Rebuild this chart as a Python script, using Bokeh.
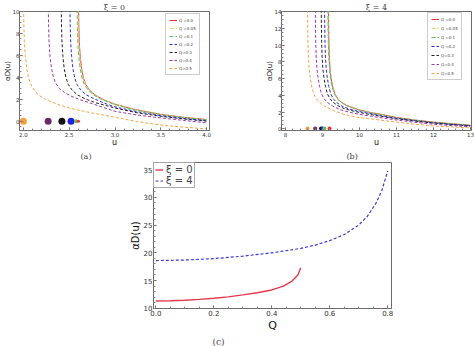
from bokeh.plotting import figure
from bokeh.layouts import column, row
from bokeh.models import Range1d, Legend, LegendItem, Title, FixedTicker, NumeralTickFormatter
from bokeh.embed import file_html
from bokeh.resources import INLINE
import numpy as np

# ---------------- data ----------------
q_labels = ["Q =0.0", "Q =0.05", "Q =0.1", "Q =0.2", "Q=0.3", "Q=0.4", "Q=0.5"]

# panel (a): xi = 0, deflection angle against u
u_a_q00 = [2.602, 2.605, 2.61, 2.62, 2.635, 2.655, 2.68, 2.72, 2.78, 2.87, 3.0, 3.2, 3.5, 3.75, 4.0]
al_a_q00 = [10.2, 8.6, 7.2, 5.9, 4.8, 3.95, 3.35, 2.85, 2.4, 1.97, 1.55, 1.1, 0.62, 0.35, 0.15]
u_a_q005 = [2.598, 2.601, 2.606, 2.616, 2.631, 2.651, 2.676, 2.716, 2.776, 2.866, 3.0, 3.2, 3.5, 3.75, 4.0]
al_a_q005 = [10.2, 8.6, 7.2, 5.9, 4.8, 3.95, 3.35, 2.85, 2.4, 1.97, 1.54, 1.09, 0.61, 0.34, 0.14]
u_a_q01 = [2.586, 2.589, 2.594, 2.604, 2.619, 2.639, 2.664, 2.704, 2.764, 2.854, 3.0, 3.2, 3.5, 3.75, 4.0]
al_a_q01 = [10.2, 8.6, 7.2, 5.9, 4.8, 3.95, 3.35, 2.85, 2.4, 1.97, 1.5, 1.06, 0.6, 0.33, 0.12]
u_a_q02 = [2.508, 2.511, 2.516, 2.526, 2.54, 2.56, 2.585, 2.625, 2.685, 2.77, 2.88, 3.0, 3.25, 3.5, 3.75, 4.0]
al_a_q02 = [10.2, 8.6, 7.2, 5.9, 4.8, 3.95, 3.35, 2.85, 2.4, 2.05, 1.65, 1.3, 0.85, 0.5, 0.25, 0.05]
u_a_q03 = [2.413, 2.416, 2.421, 2.431, 2.445, 2.465, 2.49, 2.53, 2.59, 2.67, 2.78, 3.0, 3.25, 3.5, 3.75, 4.0]
al_a_q03 = [10.2, 8.6, 7.2, 5.9, 4.8, 3.95, 3.35, 2.85, 2.4, 2.05, 1.7, 1.2, 0.75, 0.45, 0.2, 0.0]
u_a_q04 = [2.272, 2.275, 2.28, 2.29, 2.305, 2.325, 2.35, 2.39, 2.45, 2.53, 2.62, 2.75, 3.0, 3.25, 3.5, 3.75, 4.0]
al_a_q04 = [10.2, 8.6, 7.2, 5.9, 4.9, 4.1, 3.5, 3.0, 2.6, 2.25, 1.95, 1.6, 0.9, 0.55, 0.3, 0.07, -0.15]
u_a_q05 = [2.002, 2.005, 2.01, 2.02, 2.035, 2.056, 2.09, 2.13, 2.18, 2.24, 2.32, 2.42, 2.55, 2.75, 3.0, 3.25, 3.5, 3.75, 4.0]
al_a_q05 = [10.2, 8.6, 7.3, 6.0, 4.9, 3.9, 3.2, 2.7, 2.3, 2.0, 1.7, 1.4, 1.1, 0.75, 0.35, -0.05, -0.35, -0.55, -0.7]

# critical points on the u axis, panel (a)
dot_u_a = [2.0, 2.27, 2.42, 2.52, 2.575, 2.60]
dot_al_a = [0, 0, 0, 0, 0, 0]

# panel (b): xi = 4
u_b_q00 = [9.162, 9.166, 9.172, 9.185, 9.205, 9.23, 9.27, 9.33, 9.42, 9.52, 9.65, 9.8, 10.0, 10.3, 10.6, 11.0, 11.5, 12.0, 12.5, 13.0]
al_b_q00 = [14.2, 12.0, 10.2, 8.5, 7.1, 6.1, 5.1, 4.2, 3.55, 3.15, 2.8, 2.55, 2.25, 1.95, 1.72, 1.35, 1.05, 0.8, 0.6, 0.43]
u_b_q005 = [9.155, 9.159, 9.165, 9.178, 9.198, 9.223, 9.263, 9.323, 9.413, 9.513, 9.643, 9.795, 10.0, 10.3, 10.6, 11.0, 11.5, 12.0, 12.5, 13.0]
al_b_q005 = [14.2, 12.0, 10.2, 8.5, 7.1, 6.1, 5.1, 4.2, 3.55, 3.15, 2.8, 2.55, 2.24, 1.94, 1.71, 1.34, 1.04, 0.79, 0.6, 0.43]
u_b_q01 = [9.145, 9.15, 9.157, 9.17, 9.19, 9.215, 9.255, 9.315, 9.405, 9.505, 9.635, 9.79, 10.0, 10.3, 10.6, 11.0, 11.5, 12.0, 12.5, 13.0]
al_b_q01 = [14.2, 12.0, 10.2, 8.5, 7.1, 6.1, 5.1, 4.2, 3.55, 3.15, 2.8, 2.55, 2.22, 1.93, 1.7, 1.32, 1.03, 0.78, 0.59, 0.42]
u_b_q02 = [9.055, 9.06, 9.067, 9.08, 9.1, 9.13, 9.17, 9.22, 9.29, 9.38, 9.51, 9.7, 9.95, 10.25, 10.6, 11.0, 11.5, 12.0, 12.5, 13.0]
al_b_q02 = [14.2, 11.9, 10.1, 8.45, 7.1, 6.05, 5.05, 4.2, 3.6, 3.15, 2.75, 2.4, 2.1, 1.85, 1.55, 1.25, 0.97, 0.72, 0.53, 0.38]
u_b_q03 = [8.965, 8.97, 8.977, 8.99, 9.01, 9.04, 9.08, 9.13, 9.2, 9.29, 9.42, 9.62, 9.9, 10.2, 10.6, 11.0, 11.5, 12.0, 12.5, 13.0]
al_b_q03 = [14.2, 11.9, 10.1, 8.45, 7.1, 6.05, 5.05, 4.2, 3.6, 3.15, 2.75, 2.35, 2.05, 1.78, 1.48, 1.2, 0.92, 0.68, 0.5, 0.35]
u_b_q04 = [8.805, 8.81, 8.817, 8.83, 8.85, 8.88, 8.92, 8.97, 9.04, 9.13, 9.26, 9.5, 9.8, 10.1, 10.5, 11.0, 11.5, 12.0, 12.5, 13.0]
al_b_q04 = [14.2, 11.9, 10.1, 8.45, 7.1, 6.05, 5.05, 4.2, 3.6, 3.15, 2.75, 2.25, 1.9, 1.65, 1.38, 1.05, 0.78, 0.55, 0.38, 0.25]
u_b_q05 = [8.595, 8.6, 8.607, 8.62, 8.64, 8.67, 8.71, 8.76, 8.83, 8.92, 9.05, 9.3, 9.6, 9.93, 10.5, 11.0, 11.5, 12.0, 12.5, 13.0]
al_b_q05 = [14.2, 11.8, 10.0, 8.4, 7.1, 6.0, 5.0, 4.15, 3.6, 3.15, 2.7, 2.17, 1.7, 1.38, 1.08, 0.8, 0.55, 0.35, 0.22, 0.12]

dot_u_b = [8.595, 8.80, 8.96, 9.0, 9.05, 9.19]
dot_al_b = [0.05, 0.05, 0.05, 0.05, 0.05, 0.05]

# panel (c): alpha_D at the critical point against Q
q_xi0 = [0.0, 0.05, 0.1, 0.15, 0.2, 0.25, 0.3, 0.35, 0.4, 0.44, 0.47, 0.49, 0.5]
al_xi0 = [11.3, 11.35, 11.45, 11.6, 11.8, 12.05, 12.4, 12.8, 13.3, 14.0, 14.9, 16.0, 17.3]
q_xi4 = [0.0, 0.1, 0.2, 0.3, 0.4, 0.5, 0.55, 0.6, 0.65, 0.7, 0.73, 0.76, 0.78, 0.8]
al_xi4 = [18.6, 18.7, 18.95, 19.4, 20.0, 20.8, 21.4, 22.2, 23.3, 25.0, 26.6, 29.0, 31.3, 34.8]

# ---------------- styling ----------------
line_colors = ["#e8333c", "#e6d57a", "#5ec25e", "#2b2be0", "#222222", "#9a3aa8", "#f4a447"]
line_dashes = ["solid", "4 2", "4 2", "3 2", "3 2", "3 2", "3 2"]
dot_colors = ["#f4a040", "#6a2a6a", "#111111", "#1f1fe0", "#5ec25e", "#e8333c"]
dot_sizes_a = [7, 7, 7, 7, 4, 3]
dot_sizes_b = [4, 4, 4, 4, 4, 4]

SANS = "DejaVu Sans"
SERIF = "DejaVu Serif"


def style_frame(p, xt, xminor, yt, yminor, tick_px, xfmt, yfmt, label_standoff):
    p.grid.visible = False
    p.outline_line_color = "#6d6d6d"
    p.background_fill_color = "white"
    p.border_fill_color = "white"
    for ax, ticks, minor, fmt in ((p.xaxis[0], xt, xminor, xfmt), (p.yaxis[0], yt, yminor, yfmt)):
        ax.ticker = FixedTicker(ticks=ticks, minor_ticks=minor)
        ax.formatter = NumeralTickFormatter(format=fmt)
        ax.major_tick_in = 3
        ax.major_tick_out = 0
        ax.minor_tick_in = 2
        ax.minor_tick_out = 0
        ax.axis_line_color = "#6d6d6d"
        ax.major_tick_line_color = "#555555"
        ax.minor_tick_line_color = "#888888"
        ax.major_label_text_font_size = tick_px
        ax.major_label_text_font = SANS
        ax.major_label_text_color = "#333333"
        ax.major_label_standoff = 1
        ax.axis_label_standoff = label_standoff
        ax.axis_label_text_font = SANS
        ax.axis_label_text_font_style = "normal"
        ax.axis_label_text_color = "#111111"


def curves_panel(width, height, xr, yr, borders, title, tag, tag_offset,
                 us, als, dot_u, dot_al, dot_sizes, xt, xminor, xfmt, yt, yminor, legend_loc,
                 legend_spacing):
    p = figure(width=width, height=height, x_range=Range1d(*xr), y_range=Range1d(*yr),
               output_backend="svg", toolbar_location=None,
               min_border_left=borders[0], min_border_right=borders[1],
               min_border_top=borders[2], min_border_bottom=borders[3])
    p.title.text = title
    p.title.align = "center"
    p.title.text_font = SERIF
    p.title.text_font_size = "8px"
    p.title.text_font_style = "normal"
    p.title.standoff = 0
    style_frame(p, xt, xminor, yt, yminor, "5.5px", xfmt, "0", -2)
    p.xaxis[0].axis_label = "u"
    p.xaxis[0].axis_label_text_font_size = "8px"
    p.yaxis[0].axis_label = "αD(u)"
    p.yaxis[0].axis_label_text_font_size = "7px"
    p.yaxis[0].major_label_standoff = 0

    items = []
    for u, a, c, d, lab in zip(us, als, line_colors, line_dashes, q_labels):
        r = p.line(u, a, line_color=c, line_dash=d, line_width=1)
        items.append(LegendItem(label=lab, renderers=[r]))
    p.scatter(dot_u, dot_al, size=dot_sizes, color=dot_colors, line_color=None)

    leg = Legend(items=items, location=legend_loc, label_text_font_size="4px",
                 label_text_font=SANS, glyph_width=8, glyph_height=6, label_height=6,
                 label_width=10, spacing=legend_spacing, padding=3, margin=0, label_standoff=2,
                 border_line_color="#999999", background_fill_color="white")
    p.add_layout(leg)
    p.add_layout(Title(text=tag, align="left", offset=tag_offset, text_font=SERIF,
                       text_font_size="8px", text_font_style="normal", standoff=0), "below")
    return p


minor_a_x = [float(v) for v in np.round(np.arange(1.9, 4.05, 0.1), 2)]
minor_a_y = [float(v) for v in np.arange(-1.0, 10.01, 0.5)]
pa = curves_panel(237, 161, (1.957, 4.032), (-0.85, 10.0), (15, 28, 10, 31), "ξ = 0", "(a)", 61,
                  [u_a_q00, u_a_q005, u_a_q01, u_a_q02, u_a_q03, u_a_q04, u_a_q05],
                  [al_a_q00, al_a_q005, al_a_q01, al_a_q02, al_a_q03, al_a_q04, al_a_q05],
                  dot_u_a, dot_al_a, dot_sizes_a,
                  [2.0, 2.5, 3.0, 3.5, 4.0], minor_a_x, "0.0", [0, 2, 4, 6, 8, 10], minor_a_y,
                  (146, 55), 2)

minor_b_x = [float(v) for v in np.round(np.arange(7.8, 13.05, 0.2), 2)]
minor_b_y = [float(v) for v in np.arange(0, 14.01, 0.5)]
pb = curves_panel(237, 161, (7.89, 13.03), (-0.2, 14.0), (44, 3, 10, 31), "ξ = 4", "(b)", 65,
                  [u_b_q00, u_b_q005, u_b_q01, u_b_q02, u_b_q03, u_b_q04, u_b_q05],
                  [al_b_q00, al_b_q005, al_b_q01, al_b_q02, al_b_q03, al_b_q04, al_b_q05],
                  dot_u_b, dot_al_b, dot_sizes_b,
                  [8, 9, 10, 11, 12, 13], minor_b_x, "0", [0, 2, 4, 6, 8, 10, 12, 14], minor_b_y,
                  (146, 50), 3)

# panel (c)
pc = figure(width=474, height=185, x_range=Range1d(-0.008, 0.813), y_range=Range1d(9.95, 36.3),
            output_backend="svg", toolbar_location=None,
            min_border_left=153, min_border_right=83, min_border_top=1, min_border_bottom=36)
minor_c_x = [float(v) for v in np.round(np.arange(0, 0.81, 0.05), 3)]
minor_c_y = [float(v) for v in np.arange(10, 36.1, 1.0)]
style_frame(pc, [0.0, 0.2, 0.4, 0.6, 0.8], minor_c_x, [10, 15, 20, 25, 30, 35], minor_c_y,
            "7px", "0.0", "0", 0)
pc.xaxis[0].axis_label = "Q"
pc.xaxis[0].axis_label_text_font_size = "11px"
pc.yaxis[0].axis_label = "αD(u)"
pc.yaxis[0].axis_label_text_font_size = "10px"

r0 = pc.line(q_xi0, al_xi0, line_color="#e23a4c", line_width=1.4)
r4 = pc.line(q_xi4, al_xi4, line_color="#3b3bd4", line_width=1.2, line_dash="3 2")
leg_c = Legend(items=[LegendItem(label="ξ = 0", renderers=[r0]),
                      LegendItem(label="ξ = 4", renderers=[r4])],
               location="top_left", label_text_font_size="10px", label_text_font=SANS,
               glyph_width=8, glyph_height=9, label_height=9, label_width=20, spacing=0,
               padding=1, margin=0, label_standoff=3, border_line_color="#555555",
               background_fill_color="white")
pc.add_layout(leg_c)
pc.add_layout(Title(text="(c)", align="left", offset=59, text_font=SERIF,
                    text_font_size="9px", text_font_style="normal", standoff=0), "below")

layout = column(row(pa, pb), pc)
open("out.html", "w").write(file_html(layout, INLINE))
